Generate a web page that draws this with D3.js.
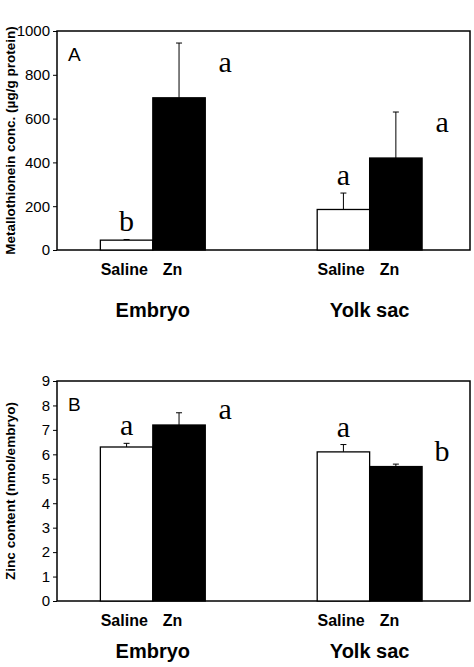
<!DOCTYPE html><html><head><meta charset="utf-8"><script src="https://cdn.jsdelivr.net/npm/d3@7"></script>
<style>body{margin:0;background:#fff}text{font-family:Arial,"Liberation Sans",sans-serif}</style></head><body><svg width="474" height="667"></svg>
<script>
const groups=["Embryo","Yolk sac"];
const treatments=["Saline","Zn"];
const mtValues=[[45,695],[185,420]];
const mtErrors=[[3,250],[75,210]];
const mtLetters=[["b","a"],["a","a"]];
const znValues=[[6.3,7.2],[6.1,5.5]];
const znErrors=[[0.15,0.5],[0.3,0.1]];
const znLetters=[["a","a"],["a","b"]];
const mtTicks=[0,200,400,600,800,1000];
const znTicks=[0,1,2,3,4,5,6,7,8,9];
const svg=d3.select("svg");
const x=d3.scaleLinear().domain([0,1]).range([57,470]);
const groupPos=[0.105,0.63]; const bw=0.127;
function panel(top,bottom,max,ticks,vals,errs,lets,label,ylab,tickLblY,grpLblY,letOff){
 const y=d3.scaleLinear().domain([0,max]).range([bottom,top]);
 const g=svg.append("g");
 g.append("rect").attr("x",57).attr("y",top).attr("width",413).attr("height",bottom-top).attr("fill","none").attr("stroke","#000").attr("stroke-width",1.5);
 const ax=g.append("g").attr("transform","translate(57,0)").call(d3.axisLeft(y).tickValues(ticks).tickFormat(d3.format("d")).tickSize(4).tickPadding(3));
 ax.select(".domain").remove();
 ax.selectAll("text").attr("font-size",15).attr("fill","#000");
 groups.forEach((gr,i)=>{
  treatments.forEach((t,j)=>{
   const x0=x(groupPos[i]+j*bw), x1=x(groupPos[i]+(j+1)*bw), xc=(x0+x1)/2;
   const v=vals[i][j], e=errs[i][j];
   g.append("line").attr("x1",xc).attr("x2",xc).attr("y1",y(v)).attr("y2",y(v+e)).attr("stroke","#000");
   g.append("line").attr("x1",xc-3).attr("x2",xc+3).attr("y1",y(v+e)).attr("y2",y(v+e)).attr("stroke","#000");
   g.append("rect").attr("x",x0).attr("y",y(v)).attr("width",x1-x0).attr("height",bottom-y(v)).attr("fill",j?"#000":"#fff").attr("stroke","#000").attr("stroke-width",1.3);
   g.append("text").attr("x",j?x1+20:xc).attr("y",j?(y(v)-letOff):(y(v+e)-8)).attr("text-anchor","middle").style("font-family","'Liberation Serif','Times New Roman',serif").attr("font-size",30).text(lets[i][j]);
  });
  const xs=x(groupPos[i]+bw);
  g.append("text").attr("x",xs-5).attr("y",tickLblY).attr("text-anchor","end").attr("font-weight","bold").attr("font-size",16).text(treatments[0]);
  g.append("text").attr("x",xs+10).attr("y",tickLblY).attr("text-anchor","start").attr("font-weight","bold").attr("font-size",16).text(treatments[1]);
  g.append("text").attr("x",xs).attr("y",grpLblY).attr("text-anchor","middle").attr("font-weight","bold").attr("font-size",20).text(gr);
 });
 g.append("text").attr("x",68).attr("y",top+30).attr("font-size",19).text(label);
 g.append("text").attr("transform",`translate(15,${(top+bottom)/2}) rotate(-90)`).attr("text-anchor","middle").attr("font-weight","bold").attr("font-size",13.5).text(ylab);
}
panel(31,250,1000,mtTicks,mtValues,mtErrors,mtLetters,"A","Metallothionein conc. (\u00b5g/g protein)",275,317,26);
panel(381,601,9,znTicks,znValues,znErrors,znLetters,"B","Zinc content (nmol/embryo)",626,658,6);
</script></body></html>
